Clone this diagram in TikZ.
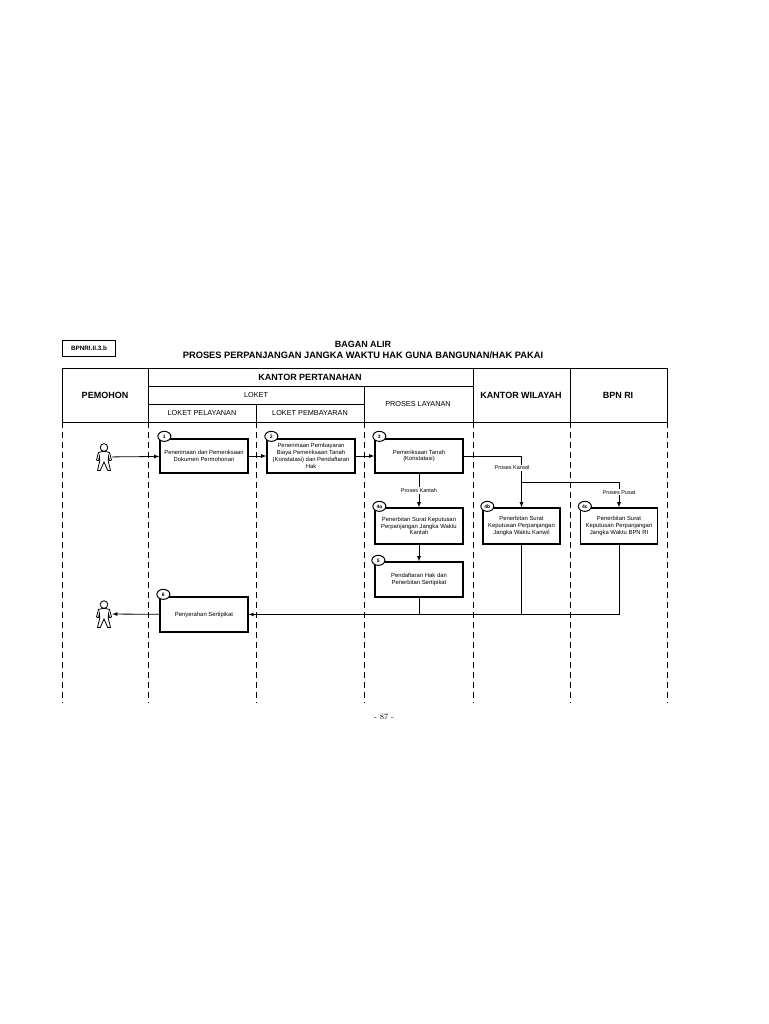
\documentclass[tikz,border=0pt]{standalone}
\usepackage{fontspec}
\setsansfont{Liberation Sans}
\usetikzlibrary{shapes.geometric}

\tikzset{
  proc/.style={draw,line width=1.3pt,align=center,inner sep=1pt,
    font=\sffamily\fontsize{5.9}{6.8}\selectfont},
  badge/.style={draw,ellipse,fill=white,line width=1pt,inner sep=0.5pt,
    minimum width=13pt,minimum height=10pt,font=\sffamily\bfseries\fontsize{5}{5}\selectfont},
  colhead/.style={font=\sffamily\bfseries\fontsize{9}{10}\selectfont},
  subhead/.style={font=\sffamily\fontsize{7.3}{8}\selectfont},
  lane/.style={line width=0.9pt,dash pattern=on 6pt off 4pt},
  flow/.style={->,>=latex,line width=0.8pt},
  link/.style={line width=0.7pt},
  linklabel/.style={fill=white,inner sep=1pt,font=\sffamily\fontsize{5.5}{6}\selectfont},
  person/.pic={
    \draw[line width=0.8pt] (0,-9.5) circle (3.8pt);
    \draw[line width=0.8pt] (-1.5,-5.5) -- (-5.5,-4.5) -- (-7.5,3) -- (-5.5,3.7) -- (-4.5,-0.5)
      -- (-4.2,4) -- (-6.5,13.5) -- (-3.8,13.5) -- (0,5) -- (3.8,13.5) -- (6.5,13.5) -- (4.2,4)
      -- (4.5,-0.5) -- (5.5,3.7) -- (7.5,3) -- (5.5,-4.5) -- (1.5,-5.5) -- cycle;
  }
}

\begin{document}
\begin{tikzpicture}[x=1pt,y=-1pt]
  \fill[white] (0,0) rectangle (768,1024);
  \useasboundingbox (0,0) rectangle (768,1024);

  % title
  \node[draw,line width=0.6pt,minimum width=53pt,minimum height=16pt,
    font=\sffamily\bfseries\fontsize{6.3}{7}\selectfont] (code) at (89,348) {BPNRI.II.3.b};
  \node[colhead] (title) at (363,344.5) {BAGAN ALIR};
  \node[colhead,font=\sffamily\bfseries\fontsize{9.3}{10}\selectfont] (subtitle) at (363,355)
    {PROSES PERPANJANGAN JANGKA WAKTU HAK GUNA BANGUNAN/HAK PAKAI};

  % header table
  \draw[line width=1pt] (62,368) rectangle (667,422);
  \draw[line width=1pt] (148,368) -- (148,422);
  \draw[line width=1pt] (473,368) -- (473,422);
  \draw[line width=1pt] (570,368) -- (570,422);
  \draw[line width=1pt] (148,386) -- (473,386);
  \draw[line width=1pt] (148,404) -- (364,404);
  \draw[line width=1pt] (364,386) -- (364,422);
  \draw[line width=1pt] (256,404) -- (256,422);

  \node[colhead] (pemohon) at (105,395) {PEMOHON};
  \node[colhead] (kantah) at (310,377) {KANTOR PERTANAHAN};
  \node[subhead] (loket) at (256,395) {LOKET};
  \node[subhead] (pelayanan) at (202,413) {LOKET PELAYANAN};
  \node[subhead] (pembayaran) at (310,413) {LOKET PEMBAYARAN};
  \node[subhead] (layanan) at (418,404) {PROSES LAYANAN};
  \node[colhead] (kanwil) at (521,395) {KANTOR WILAYAH};
  \node[colhead] (bpnri) at (618,395) {BPN RI};

  % lanes
  \foreach \x in {62,148,256,364,473,570,667}
    \draw[lane] (\x,422) -- (\x,703);

  % persons
  \node[minimum width=16pt,minimum height=27pt,inner sep=0pt] (p1) at (104,457) {};
  \pic at (p1) {person};
  \node[minimum width=16pt,minimum height=27pt,inner sep=0pt] (p2) at (104,614) {};
  \pic at (p2) {person};

  % steps
  \node[proc,minimum width=88pt,minimum height=34pt] (b1) at (204,456)
    {Penerimaan dan Pemeriksaan\\Dokumen Permohonan};
  \node[proc,minimum width=88pt,minimum height=34pt] (b2) at (311,456)
    {Penerimaan Pembayaran\\Biaya Pemeriksaan Tanah\\(Konstatasi) dan Pendaftaran\\Hak};
  \node[proc,minimum width=88pt,minimum height=34pt] (b3) at (419,456)
    {Pemeriksaan Tanah\\(Konstatasi)};
  \node[proc,minimum width=88pt,minimum height=36pt] (b4a) at (419,526)
    {Penerbitan Surat Keputusan\\Perpanjangan Jangka Waktu\\Kantah};
  \node[proc,minimum width=77pt,minimum height=36pt] (b4b) at (521.5,526)
    {Penerbitan Surat\\Keputusan Perpanjangan\\Jangka Waktu Kanwil};
  \node[proc,minimum width=77pt,minimum height=36pt] (b4c) at (619,526)
    {Penerbitan Surat\\Keputusan Perpanjangan\\Jangka Waktu BPN RI};
  \node[proc,minimum width=88pt,minimum height=35pt] (b5) at (419,579.5)
    {Pendaftaran Hak dan\\Penerbitan Sertipikat};
  \node[proc,minimum width=88pt,minimum height=35pt] (b6) at (204,614.5)
    {Penyerahan Sertipikat};

  % numbers
  \node[badge,xshift=5pt,yshift=2pt] (n1) at (b1.north west) {1};
  \node[badge,xshift=5pt,yshift=2pt] (n2) at (b2.north west) {2};
  \node[badge,xshift=5pt,yshift=2pt] (n3) at (b3.north west) {3};
  \node[badge,xshift=5pt,yshift=1pt] (n4a) at (b4a.north west) {4a};
  \node[badge,xshift=5pt,yshift=1pt] (n4b) at (b4b.north west) {4b};
  \node[badge,xshift=5pt,yshift=1pt] (n4c) at (b4c.north west) {4c};
  \node[badge,xshift=4pt,yshift=1pt] (n5) at (b5.north west) {5};
  \node[badge,xshift=4pt,yshift=2pt] (n6) at (b6.north west) {6};

  % connectors
  \coordinate (splitrow) at (0,482);
  \draw[flow] (p1) -- (b1);
  \draw[flow] (b1) -- (b2);
  \draw[flow] (b2) -- (b3);
  \draw[flow] (b3) -- (b4a) node[linklabel,midway] (kantahlabel) {Proses Kantah};
  \draw[flow] (b3.east) -| (b4b.north);
  \node[linklabel] (kanwillabel) at (512,468) {Proses Kanwil};
  \draw[flow] (b4b.north |- splitrow) -| (b4c.north) node[linklabel,pos=0.7] (pusatlabel) {Proses Pusat};
  \draw[flow] (b4a) -- (b5);
  \draw[flow,link] (b4c.south) |- (b6.east);
  \draw[link] (b4b.south) -- (b4b.south |- b6.east);
  \draw[link] (b5.south) -- (b5.south |- b6.east);
  \draw[flow] (b6) -- (p2);

  % page number
  \node[font=\fontsize{8}{9}\selectfont] (page) at (384,717) {- 87 -};
\end{tikzpicture}
\end{document}
